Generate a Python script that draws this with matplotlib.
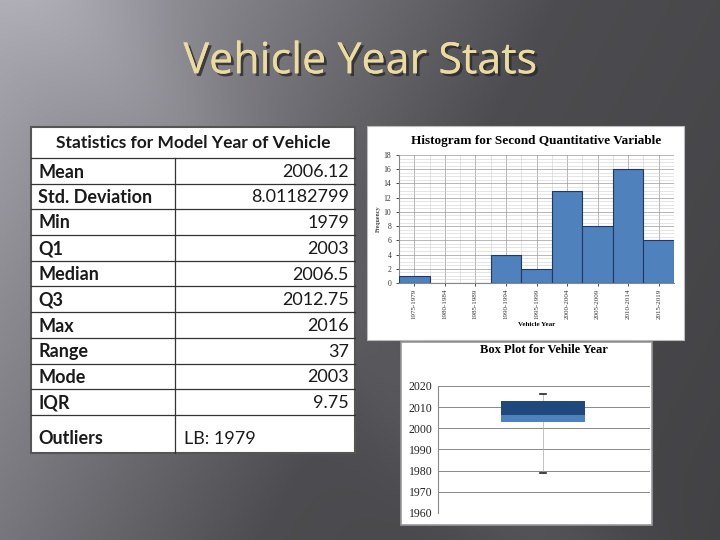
"""Vehicle Year Stats slide: summary table, histogram and box plot."""

import numpy as np
import matplotlib
matplotlib.use("Agg")
import matplotlib.pyplot as plt
from matplotlib.patches import Rectangle
import matplotlib.patheffects as pe

# Summary statistics table
stat_names = ["Mean", "Std. Deviation", "Min", "Q1", "Median", "Q3",
              "Max", "Range", "Mode", "IQR", "Outliers"]
stat_values = ["2006.12", "8.01182799", "1979", "2003", "2006.5", "2012.75",
               "2016", "37", "2003", "9.75", "LB: 1979"]

# Histogram
bins = ["1975-1979", "1980-1984", "1985-1989", "1990-1994", "1995-1999",
        "2000-2004", "2005-2009", "2010-2014", "2015-2019"]
counts = [1, 0, 0, 4, 2, 13, 8, 16, 6]

# Box plot (five-number summary)
box_min, box_q1, box_median, box_q3, box_max = 1979, 2003, 2006.5, 2012.75, 2016

W, H = 720, 540
fig = plt.figure(figsize=(7.2, 5.4), dpi=100)


def fbox(x0, y0, x1, y1):
    """pixel box (top-left origin) -> figure fraction rect"""
    return [x0 / W, 1 - y1 / H, (x1 - x0) / W, (y1 - y0) / H]


# ---- background + title + table drawn in pixel coords
bg = fig.add_axes([0, 0, 1, 1])
bg.set_xlim(0, W)
bg.set_ylim(H, 0)
bg.axis("off")

yy, xx = np.mgrid[0:H, 0:W]
d = (xx + 0.55 * yy) / (W + 0.55 * H)
light = 0.66 - 0.36 * np.clip(d / 0.55, 0, 1) - 0.04 * np.clip((d - 0.55) / 0.45, 0, 1)
streak = 0.05 * np.exp(-((xx - 0.9 * yy - 60) / 90.0) ** 2)
v = np.clip(light + streak, 0, 1)
img = np.dstack([v * 1.0, v * 0.99, v * 1.04])
bg.imshow(np.clip(img, 0, 1), extent=[0, W, H, 0], aspect="auto", zorder=0)

bg.text(360, 62, "Vehicle Year Stats", ha="center", va="center",
        fontsize=31, family="Open Sans", color="#EBDB9F", zorder=3,
        path_effects=[pe.withSimplePatchShadow(offset=(2, -2), shadow_rgbFace="#2a2a2e", alpha=0.8),
                      pe.Normal()])

# table
tx0, tx1, tdiv = 31, 355, 175
row_edges = [127, 158, 184, 209, 235, 261, 286, 312, 338, 364, 389, 415, 453]
bg.add_patch(Rectangle((tx0, row_edges[0]), tx1 - tx0, row_edges[-1] - row_edges[0],
                       facecolor="white", edgecolor="#555555", lw=1.5, zorder=2))
for y in row_edges[1:-1]:
    bg.plot([tx0, tx1], [y, y], color="#333333", lw=0.9, zorder=3)
bg.plot([tdiv, tdiv], [row_edges[1], row_edges[-1]], color="#333333", lw=0.9, zorder=3)
bg.text((tx0 + tx1) / 2, (row_edges[0] + row_edges[1]) / 2 + 1,
        "Statistics for Model Year of Vehicle", ha="center", va="center",
        fontsize=12.5, family="Lato", weight="bold", color="#1a1a1a", zorder=4)
for i, (name, val) in enumerate(zip(stat_names, stat_values)):
    yc = (row_edges[i + 1] + row_edges[i + 2]) / 2 + 1
    if name == "Outliers":
        yc += 4
    bg.text(tx0 + 7, yc, name, ha="left", va="center", fontsize=13,
            family="Lato", weight="bold", color="#1a1a1a", zorder=4)
    if name == "Outliers":
        bg.text(tdiv + 9, yc, val, ha="left", va="center", fontsize=13,
                family="Lato", color="#1a1a1a", zorder=4)
    else:
        bg.text(tx1 - 6, yc, val, ha="right", va="center", fontsize=13,
                family="Lato", color="#1a1a1a", zorder=4)

# white panels behind the two charts
bg.add_patch(Rectangle((367, 126), 317, 214, facecolor="white", edgecolor="#bbbbbb", lw=0.8, zorder=2))
bg.add_patch(Rectangle((401, 342), 251, 183, facecolor="white", edgecolor="#999999", lw=1.2, zorder=2))

serif = "Liberation Serif"
blue = "#4F81BD"

# ---- histogram
ax = fig.add_axes(fbox(399, 155, 674, 283))
x = np.arange(len(bins))
ax.bar(x, counts, width=1.0, color=blue, edgecolor="#1F3864", lw=0.8, zorder=3)
ax.set_xlim(-0.5, len(bins) - 0.5)
ax.set_ylim(0, 18)
ax.set_yticks(range(0, 19, 2))
ax.set_yticks(np.arange(0, 18.1, 0.5), minor=True)
ax.set_xticks(x)
ax.set_xticks(np.arange(-0.5, len(bins)), minor=True)
ax.set_xticklabels(bins, rotation=90, fontsize=5, family=serif, color="#333333")
ax.tick_params(axis="y", labelsize=5.5, labelcolor="#333333", length=2, width=0.5)
ax.tick_params(axis="x", length=2, width=0.5, pad=2)
ax.tick_params(which="minor", length=0)
for lbl in ax.get_yticklabels():
    lbl.set_family(serif)
ax.grid(True, which="major", color="#9a9a9a", lw=0.5, zorder=0)
ax.grid(True, which="minor", color="#d0d0d0", lw=0.4, zorder=0)
for s in ["top", "right"]:
    ax.spines[s].set_visible(False)
ax.spines["left"].set_color("#888888")
ax.spines["bottom"].set_color("#888888")
ax.set_title("Histogram for Second Quantitative Variable", fontsize=9.5,
             family=serif, weight="bold", pad=8)
ax.set_xlabel("Vehicle Year", fontsize=5, family=serif, weight="bold", labelpad=2)
ax.set_ylabel("Frequency", fontsize=4.5, family=serif, labelpad=2)

# ---- box plot (stacked bars like a spreadsheet box chart)
bx = fig.add_axes(fbox(438, 386, 650, 513))
bx.bar(0, box_median - box_q1, bottom=box_q1, width=0.4, color=blue, zorder=3)
bx.bar(0, box_q3 - box_median, bottom=box_median, width=0.4, color="#1F497D", zorder=3)
bx.plot([0, 0], [box_min, box_q1], color="#aaaaaa", lw=0.5, zorder=2)
bx.plot([0, 0], [box_q3, box_max], color="#aaaaaa", lw=0.5, zorder=2)
bx.plot([-0.015, 0.015], [box_min, box_min], color="#222222", lw=1.2, zorder=4)
bx.plot([-0.015, 0.015], [box_max, box_max], color="#222222", lw=1.2, zorder=4)
bx.set_xlim(-0.495, 0.505)
bx.set_ylim(1960, 2020)
bx.set_yticks(range(1960, 2021, 10))
bx.set_xticks([])
bx.tick_params(axis="y", labelsize=8.5, labelcolor="#222222", length=0, pad=4)
for lbl in bx.get_yticklabels():
    lbl.set_family(serif)
bx.grid(True, axis="y", color="#888888", lw=0.7, zorder=0)
for s in ["top", "right", "bottom"]:
    bx.spines[s].set_visible(False)
bx.spines["left"].set_color("#888888")
bx.set_title("Box Plot for Vehile Year", fontsize=9, family=serif, weight="bold", pad=24)

fig.savefig("out.png", dpi=100)
